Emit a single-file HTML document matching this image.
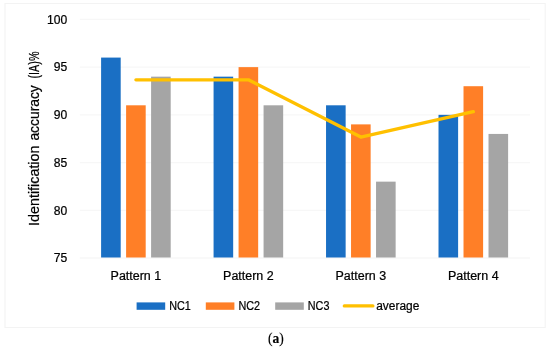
<!DOCTYPE html>
<html lang="en">
<head>
<meta charset="utf-8">
<title>Identification accuracy chart</title>
<style>
html,body{margin:0;padding:0;background:#fff;}
body{width:550px;height:352px;overflow:hidden;}
svg{display:block;}
.t{font-family:"Liberation Sans",sans-serif;fill:#000;stroke:#000;stroke-width:0.22;}
.s{font-family:"Liberation Serif",serif;fill:#000;stroke:#000;stroke-width:0.15;}
</style>
</head>
<body>
<svg width="550" height="352" viewBox="0 0 550 352">
<rect x="0" y="0" width="550" height="352" fill="#ffffff"/>
<rect x="5" y="3.5" width="540.2" height="324" fill="none" stroke="#f3f3f3" stroke-width="1.1"/>
<line x1="79.8" x2="530.1" y1="19.40" y2="19.40" stroke="#f7f7f7" stroke-width="1.3"/>
<line x1="79.8" x2="530.1" y1="67.12" y2="67.12" stroke="#f7f7f7" stroke-width="1.3"/>
<line x1="79.8" x2="530.1" y1="114.84" y2="114.84" stroke="#f7f7f7" stroke-width="1.3"/>
<line x1="79.8" x2="530.1" y1="162.56" y2="162.56" stroke="#f7f7f7" stroke-width="1.3"/>
<line x1="79.8" x2="530.1" y1="210.28" y2="210.28" stroke="#f7f7f7" stroke-width="1.3"/>
<line x1="79.8" x2="530.1" y1="258.00" y2="258.00" stroke="#f7f7f7" stroke-width="1.3"/>
<rect x="101.10" y="57.58" width="19.6" height="199.92" fill="#1A6FC4"/>
<rect x="126.10" y="105.30" width="19.6" height="152.20" fill="#FF7F27"/>
<rect x="151.10" y="76.66" width="19.6" height="180.84" fill="#A5A5A5"/>
<rect x="213.57" y="76.66" width="19.6" height="180.84" fill="#1A6FC4"/>
<rect x="238.57" y="67.12" width="19.6" height="190.38" fill="#FF7F27"/>
<rect x="263.57" y="105.30" width="19.6" height="152.20" fill="#A5A5A5"/>
<rect x="326.04" y="105.30" width="19.6" height="152.20" fill="#1A6FC4"/>
<rect x="351.04" y="124.38" width="19.6" height="133.12" fill="#FF7F27"/>
<rect x="376.04" y="181.65" width="19.6" height="75.85" fill="#A5A5A5"/>
<rect x="438.51" y="114.84" width="19.6" height="142.66" fill="#1A6FC4"/>
<rect x="463.51" y="86.21" width="19.6" height="171.29" fill="#FF7F27"/>
<rect x="488.51" y="133.93" width="19.6" height="123.57" fill="#A5A5A5"/>
<polyline points="135.90,79.81 248.37,79.81 360.84,137.08 473.31,111.69" fill="none" stroke="#FFC000" stroke-width="3.3" stroke-linecap="round" stroke-linejoin="round"/>
<text class="t" x="67.3" y="23.70" font-size="12.1" text-anchor="end">100</text>
<text class="t" x="67.3" y="71.42" font-size="12.1" text-anchor="end">95</text>
<text class="t" x="67.3" y="119.14" font-size="12.1" text-anchor="end">90</text>
<text class="t" x="67.3" y="166.86" font-size="12.1" text-anchor="end">85</text>
<text class="t" x="67.3" y="214.58" font-size="12.1" text-anchor="end">80</text>
<text class="t" x="67.3" y="262.30" font-size="12.1" text-anchor="end">75</text>
<text class="t" x="135.90" y="279.6" font-size="12" text-anchor="middle" textLength="50.6" lengthAdjust="spacingAndGlyphs">Pattern 1</text>
<text class="t" x="248.37" y="279.6" font-size="12" text-anchor="middle" textLength="50.6" lengthAdjust="spacingAndGlyphs">Pattern 2</text>
<text class="t" x="360.84" y="279.6" font-size="12" text-anchor="middle" textLength="50.6" lengthAdjust="spacingAndGlyphs">Pattern 3</text>
<text class="t" x="473.31" y="279.6" font-size="12" text-anchor="middle" textLength="50.6" lengthAdjust="spacingAndGlyphs">Pattern 4</text>
<text class="t" transform="translate(38.8 226.0) rotate(-90)" font-size="14.5" textLength="80.5" lengthAdjust="spacingAndGlyphs">Identification</text>
<text class="t" transform="translate(38.8 140.6) rotate(-90)" font-size="14.5" textLength="55.4" lengthAdjust="spacingAndGlyphs">accuracy</text>
<text class="t" transform="translate(38.8 78.5) rotate(-90)" font-size="14.5" textLength="27.0" lengthAdjust="spacingAndGlyphs">(IA)%</text>
<rect x="136.6" y="302.4" width="28.6" height="7.4" fill="#1A6FC4"/>
<text class="t" x="169.2" y="309.9" font-size="12" textLength="21.6" lengthAdjust="spacingAndGlyphs">NC1</text>
<rect x="205.8" y="302.4" width="28.6" height="7.4" fill="#FF7F27"/>
<text class="t" x="238.4" y="309.9" font-size="12" textLength="21.6" lengthAdjust="spacingAndGlyphs">NC2</text>
<rect x="275.2" y="302.4" width="28.6" height="7.4" fill="#A5A5A5"/>
<text class="t" x="307.8" y="309.9" font-size="12" textLength="21.6" lengthAdjust="spacingAndGlyphs">NC3</text>
<line x1="344.3" x2="372.9" y1="305.9" y2="305.9" stroke="#FFC000" stroke-width="3.3" stroke-linecap="round"/>
<text class="t" x="376.2" y="309.5" font-size="12" textLength="43.1" lengthAdjust="spacingAndGlyphs">average</text>
<text class="s" x="275.9" y="343.1" font-size="15" text-anchor="middle" textLength="15.8" lengthAdjust="spacingAndGlyphs">(<tspan font-weight="bold">a</tspan>)</text>
</svg>
</body>
</html>
